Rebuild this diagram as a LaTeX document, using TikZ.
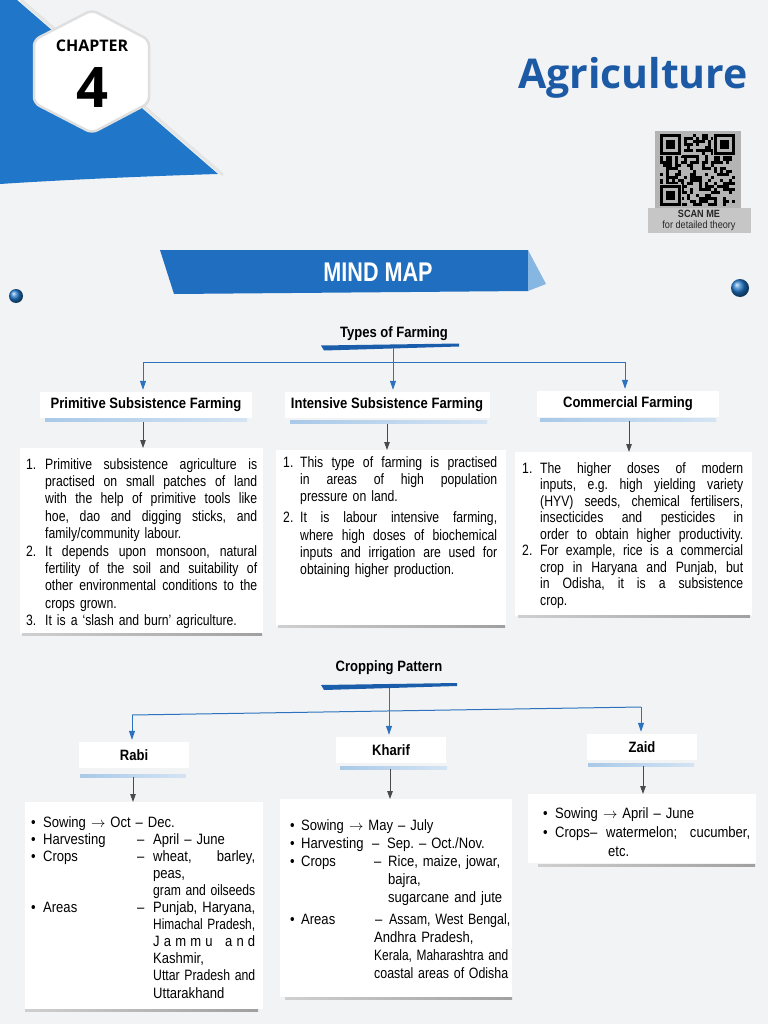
\documentclass[tikz,border=0pt]{standalone}
\usepackage{fontspec}
\usepackage{graphicx}
\setmainfont{Liberation Sans}[FakeStretch=0.87]
\newfontfamily\narrowfont{Liberation Sans}[FakeStretch=0.815]
\newfontfamily\titlefont{Open Sans}
\newfontfamily\bannerfont{Liberation Sans}[FakeStretch=0.8]
\usetikzlibrary{arrows.meta,calc}
\definecolor{pagebg}{HTML}{F2F3F4}
\definecolor{chapblue}{HTML}{2077C9}
\definecolor{titleblue}{HTML}{1C5AA6}
\definecolor{linkblue}{HTML}{2C72BE}
\definecolor{barblue}{HTML}{1A5DAA}
\definecolor{lightbar}{HTML}{A9C9E8}
\definecolor{bannerblue}{HTML}{1F6EC0}
\definecolor{foldblue}{HTML}{86B6E2}
\definecolor{qrgray}{HTML}{B4B4B4}
\definecolor{arrowgray}{HTML}{4A4A4A}
\definecolor{shadowgray}{HTML}{A0A0A0}
\frenchspacing
\newlength\ind
\newcommand\sj[2]{\makebox[#1][s]{\frenchspacing\spaceskip=0pt\xspaceskip=0pt #2}}
\newcommand\fj[2]{\makebox[\ind][l]{#1}\sj{\dimexpr\linewidth-\ind\relax}{#2}}
\newcommand\fn[2]{\makebox[\ind][l]{#1}#2}
\newcommand\cj[1]{\hspace*{\ind}\sj{\dimexpr\linewidth-\ind\relax}{#1}}
\newcommand\cn[1]{\hspace*{\ind}#1}
\newcommand\bul[1]{\makebox[#1][l]{\textbullet}}
\newcommand\fitw[2]{\resizebox{#1}{\height}{#2}}
\tikzset{
  hd/.style={font=\bfseries\fontsize{15}{15}\selectfont, inner sep=0pt},
  hbox/.style={hd, fill=white, minimum height=26pt},
  body/.style={font=\fontsize{15}{17.4}\selectfont, inner sep=0pt, align=left, anchor=base west},
  tbox/.style={fill=white, inner sep=0pt, anchor=north west},
  link/.style={draw=linkblue, line width=1pt},
  linkarrow/.style={link, -{Triangle[width=6pt,length=9pt]}},
  garrow/.style={draw=arrowgray, line width=0.9pt, -{Triangle[width=5.5pt,length=8pt]}},
}
\begin{document}
\begin{tikzpicture}[x=1pt,y=-1pt]
\fill[pagebg] (0,0) rectangle (768,1024);
\useasboundingbox (0,0) rectangle (768,1024);

% chapter corner
\fill[chapblue] (0,0) -- (17,0) -- (218,174) .. controls (150,176) and (60,180) .. (0,184) -- cycle;
\draw[white!80!gray, line width=3pt] (21,0) -- (223,175);
\draw[fill=white, draw=gray!25, line width=2.5pt, rounded corners=6pt]
  (92,10) -- (149,40) -- (149,103) -- (92,133) -- (34,103) -- (34,40) -- cycle;
\node[font=\titlefont\bfseries\fontsize{16}{16}\selectfont] (chap) at (92,46) {CHAPTER};
\node[font=\titlefont\bfseries\fontsize{56}{56}\selectfont] (num) at (92,88) {4};

% title
\node[font=\titlefont\bfseries\fontsize{41}{41}\selectfont, text=titleblue] (title) at (633,78) {Agriculture};

% QR code
\fill[qrgray] (655,131) rectangle (741,209);
\pgfmathsetseed{12}
\foreach \i in {0,...,24}{\foreach \j in {0,...,23}{%
  \pgfmathrandominteger{\r}{0}{1}%
  \ifnum\r=1 \fill[black] ({660+3*\i},{134+3*\j}) rectangle ++(3,3);\fi}}
\foreach \px/\py in {660/134, 714/134, 660/185}{
  \fill[qrgray] (\px-1,\py-1) rectangle ++(23,23);
  \fill[black] (\px,\py) rectangle ++(21,21);
  \fill[qrgray] (\px+3,\py+3) rectangle ++(15,15);
  \fill[black] (\px+6,\py+6) rectangle ++(9,9);
}
\fill[gray!45] (648,208) rectangle (751,233);
\node[font=\bfseries\fontsize{10.5}{10.5}\selectfont, text=black!85] (scan) at (699,214) {SCAN ME};
\node[font=\fontsize{10.5}{10.5}\selectfont, text=black!85] (theory) at (699,226) {for detailed theory};

% decorative circles
\shade[ball color=chapblue] (16,296) circle (7);
\shade[ball color=chapblue] (740,288) circle (9);

% banner
\fill[bannerblue] (160,250) -- (528,250) -- (528,291) -- (174,294) -- cycle;
\fill[foldblue] (528,250) -- (546,284) -- (528,291) -- cycle;
\node[font=\bannerfont\bfseries\fontsize{27}{27}\selectfont, text=white] (mm) at (378,272) {MIND MAP};

% ---------- Types of Farming ----------
\node[hd] (tof) at (394,334) {Types of Farming};
\fill[barblue] (321,345.5) -- (459,343.5) -- (459,346.5) -- (324,350.5) -- cycle;
\coordinate (tofb) at (393,348);
\coordinate (tl) at (143,362);
\coordinate (tr) at (625,362);

\node[hbox, minimum width=212pt] (psf) at (146,405) {Primitive Subsistence Farming};
\node[hbox, minimum width=205pt] (isf) at (387,405) {Intensive Subsistence Farming};
\node[hbox, minimum width=182pt] (cf)  at (628,404) {Commercial Farming};

\draw[link] (tl) -- (tr);
\draw[linkarrow, shorten >=2pt] (tofb) -- (tofb |- isf.north);
\draw[linkarrow, shorten >=2pt] (tl) -- (tl |- psf.north);
\draw[linkarrow, shorten >=2pt] (tr) -- (tr |- cf.north);

\shade[left color=lightbar, right color=lightbar!50] (45,418) rectangle (247,421);
\shade[left color=lightbar, right color=lightbar!50] (290,420) rectangle (487,423);
\shade[left color=lightbar, right color=lightbar!50] (540,418) rectangle (716,421);

\node[tbox, minimum width=243pt, minimum height=186pt] (pbox) at (20,448) {};
\node[tbox, minimum width=230pt, minimum height=176pt] (ibox) at (276,450) {};
\node[tbox, minimum width=237pt, minimum height=164pt] (cbox) at (515,452) {};
\shade[left color=shadowgray!50, right color=shadowgray] (22,633) rectangle (262,635.5);
\shade[left color=shadowgray!50, right color=shadowgray] (278,625) rectangle (505,627.5);
\shade[left color=shadowgray!50, right color=shadowgray] (518,615) rectangle (750,617.5);

\coordinate (pa) at (143,422);
\coordinate (ia) at (387,424);
\coordinate (ca) at (629,421);
\draw[garrow] (pa) -- (pa |- pbox.north);
\draw[garrow] (ia) -- (ia |- ibox.north);
\draw[garrow] (ca) -- (ca |- cbox.north);

\node[body, text width=231pt, font=\narrowfont\fontsize{15}{17.4}\selectfont] (ptext) at (26,469) {%
\setlength\ind{19pt}%
\fj{1.}{Primitive subsistence agriculture is}\\
\cj{practised on small patches of land}\\
\cj{with the help of primitive tools like}\\
\cj{hoe, dao and digging sticks, and}\\
\cn{family/community labour.}\\
\fj{2.}{It depends upon monsoon, natural}\\
\cj{fertility of the soil and suitability of}\\
\cj{other environmental conditions to the}\\
\cn{crops grown.}\\
\fn{3.}{It is a ‘slash and burn’ agriculture.}};

\node[body, text width=214pt, font=\narrowfont\fontsize{15}{17.4}\selectfont] (itext) at (283,467) {%
\setlength\ind{17pt}%
\fj{1.}{This type of farming is practised}\\
\cj{in areas of high population}\\
\cn{pressure on land.}\\[3.5pt]
\fj{2.}{It is labour intensive farming,}\\
\cj{where high doses of biochemical}\\
\cj{inputs and irrigation are used for}\\
\cn{obtaining higher production.}};

\node[body, text width=221pt, font=\narrowfont\fontsize{15}{16.5}\selectfont] (ctext) at (522,473) {%
\setlength\ind{18pt}%
\fj{1.}{The higher doses of modern}\\
\cj{inputs, e.g. high yielding variety}\\
\cj{(HYV) seeds, chemical fertilisers,}\\
\cj{insecticides and pesticides in}\\
\cj{order to obtain higher productivity.}\\
\fj{2.}{For example, rice is a commercial}\\
\cj{crop in Haryana and Punjab, but}\\
\cj{in Odisha, it is a subsistence}\\
\cn{crop.}};

% ---------- Cropping Pattern ----------
\node[hd] (cp) at (389,668) {Cropping Pattern};
\fill[barblue] (321,685) -- (457,683) -- (457,686) -- (324,690) -- cycle;
\coordinate (cpb) at (389,688);
\coordinate (cl) at (132,715);
\coordinate (cr) at (641,707);

\node[hbox, minimum width=110pt] (rabi) at (134,755) {Rabi};
\node[hbox, minimum width=110pt] (kharif) at (391,750) {Kharif};
\node[hbox, minimum width=110pt] (zaid) at (642,747) {Zaid};

\draw[link] (cl) -- (cr);
\draw[linkarrow, shorten >=2pt] (cpb) -- (cpb |- kharif.north);
\draw[linkarrow, shorten >=2pt] (cl) -- (cl |- rabi.north);
\draw[linkarrow, shorten >=2pt] (cr) -- (cr |- zaid.north);

\shade[left color=lightbar, right color=lightbar!50] (80,774) rectangle (186,777);
\shade[left color=lightbar, right color=lightbar!50] (340,766) rectangle (447,769);
\shade[left color=lightbar, right color=lightbar!50] (588,763) rectangle (694,766);

\node[tbox, minimum width=238pt, minimum height=207pt] (rbox) at (25,802) {};
\node[tbox, minimum width=232pt, minimum height=198pt] (kbox) at (280,799) {};
\node[tbox, minimum width=228pt, minimum height=69pt] (zbox) at (528,794) {};
\shade[left color=shadowgray!50, right color=shadowgray] (25,1009) rectangle (258,1011.5);
\shade[left color=shadowgray!50, right color=shadowgray] (285,997) rectangle (512,999.5);
\shade[left color=shadowgray!50, right color=shadowgray] (538,864) rectangle (755,866);

\coordinate (ra) at (133,777);
\coordinate (ka) at (390,769);
\coordinate (za) at (643,766);
\draw[garrow] (ra) -- (ra |- rbox.north);
\draw[garrow] (ka) -- (ka |- kbox.north);
\draw[garrow] (za) -- (za |- zbox.north);

\node[body, text width=228pt, font=\fontsize{15}{17.1}\selectfont] (rtext) at (31,827) {%
\bul{12pt}Sowing $\rightarrow$ Oct -- Dec.\\
\bul{12pt}\makebox[94pt][l]{Harvesting}\makebox[16pt][l]{--}April -- June\\
\bul{12pt}\makebox[94pt][l]{Crops}\makebox[16pt][l]{--}\sj{102pt}{wheat, barley,}\\
\hspace*{122pt}peas,\\
\hspace*{122pt}\fitw{102pt}{gram and oilseeds}\\
\bul{12pt}\makebox[94pt][l]{Areas}\makebox[16pt][l]{--}\fitw{102pt}{Punjab, Haryana,}\\
\hspace*{122pt}\fitw{102pt}{Himachal Pradesh,}\\
\hspace*{122pt}\makebox[102pt][s]{J\hfill a\hfill m\hfill m\hfill u\hfill\hfill\hfill a\hfill n\hfill d}\\
\hspace*{122pt}Kashmir,\\
\hspace*{122pt}\fitw{102pt}{Uttar Pradesh and}\\
\hspace*{122pt}Uttarakhand};

\node[body, text width=225pt, font=\fontsize{15}{18.2}\selectfont] (ktext) at (290,830) {%
\bul{11pt}Sowing $\rightarrow$ May -- July\\
\bul{11pt}\makebox[71pt][l]{Harvesting}\makebox[15pt][l]{--}Sep.\ -- Oct./Nov.\\
\bul{11pt}\makebox[73pt][l]{Crops}\makebox[14pt][l]{--}\sj{112pt}{Rice, maize, jowar,}\\
\hspace*{98pt}bajra,\\
\hspace*{98pt}\sj{114pt}{sugarcane and jute}\\[3pt]
\bul{11pt}\makebox[74pt][l]{Areas}\makebox[14pt][l]{--}\fitw{121pt}{Assam, West Bengal,}\\
\hspace*{84pt}Andhra Pradesh,\\
\hspace*{84pt}\fitw{134pt}{Kerala, Maharashtra and}\\
\hspace*{84pt}\fitw{134pt}{coastal areas of Odisha}};

\node[body, text width=210pt, font=\fontsize{15}{19}\selectfont] (ztext) at (543,818) {%
\bul{12pt}Sowing $\rightarrow$ April -- June\\
\bul{12pt}\makebox[51pt][l]{Crops--}\sj{144pt}{watermelon; cucumber,}\\
\hspace*{65pt}etc.};
\end{tikzpicture}
\end{document}
